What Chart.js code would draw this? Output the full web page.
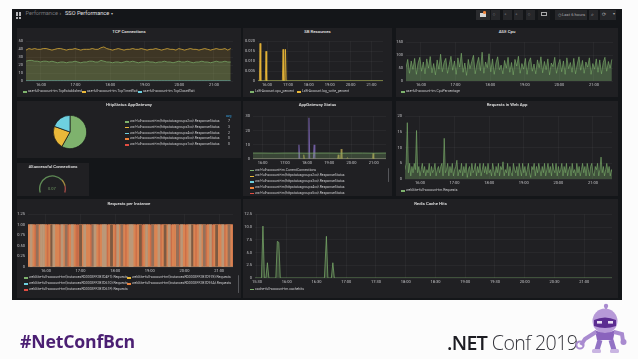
<!DOCTYPE html>
<html><head><meta charset="utf-8">
<script src="https://cdn.jsdelivr.net/npm/chart.js@4/dist/chart.umd.min.js"></script>
<style>
html,body{margin:0;padding:0;background:#fcfcfc;width:638px;height:359px;overflow:hidden}
#dash{position:absolute;left:12px;top:9px;width:610px;height:291px;background:#141619;filter:blur(.5px)}
.abs{position:absolute}
.panel{position:absolute;background:#202023}
.t{position:absolute;white-space:nowrap;font-family:Roboto,sans-serif;color:#c8c8cb;line-height:1}
.title{font-size:4.3px;font-weight:500;color:#e4e4e4;text-align:center}
.lg{font-size:3.45px}
canvas{position:absolute}
.sw{position:absolute;width:3.5px;height:1.2px}
#foot{position:absolute;left:0;top:300px;width:638px;height:59px}
</style></head><body>
<div id="dash"></div>
<div id="foot"></div>
<script>
// ---------- tick labels ----------
const hourTicks=[960,1020,1080,1140,1200,1260];
const redisTicks=[930,960,990,1020,1050,1080,1110,1140,1170,1200,1230,1260];
const tcpYTicks=[0,10,20,30,40,50];
const sbYTicks=[0,0.005,0.01,0.015,0.02];
const cpuYTicks=[0,50,100,150];
const gwYTicks=[0,10,20,30];
const webYTicks=[0,5,10,15,20];
const reqYTicks=[0,0.25,0.5,0.75,1,1.25];
const redisYTicks=[0,2.5,5,7.5,10,12.5];

// ---------- TCP Connections (5 minute samples) ----------
const tcpEstablished=[25,26,26,25,25,24,25,25,24,25,24,23,24,24,23,24,24,25,24,23,24,24,25,25,24,24,26,25,24,24,23,24,24,23,24,25,24,25,24,23,24,24,25,24,24,23,24,24,25,24,24,23,24,25,24,24,25,24,23,24,24,25,24,24,23,24,25,24,24,25,24,24];
const tcpTimeWait=[39,41,40,41,40,40,41,41,40,39,40,41,41,40,39,40,40,41,40,39,40,40,40,41,40,40,42,43,41,40,39,40,41,40,39,40,40,41,40,40,41,40,39,40,40,41,40,39,40,41,40,40,39,41,40,39,40,41,40,40,39,40,41,40,39,40,41,40,40,41,39,41];
const tcpCloseWait=[0,0,0,0,0,0,0,0,0,0,0,0,0,0,0,0,0,0,0,0,0,0,0,0,0,0,0,0,0,0,0,0,0,0,0,0,0,0,0,0,0,0,0,0,0,0,0,0,0,0,0,0,0,0,0,0,0,0,0,0,0,0,0,0,0,0,0,0,0,0,0,0];
const tcpNames=["ase-full-account-tm.TcpEstablished","ase-full-account-tm.TcpTimeWait","ase-full-account-tm.TcpCloseWait"];

// ---------- SB Resources (change points: minute of day, value) ----------
const sbTimes=[934,938,940,942,955,957,959,1004,1006,1008,1011,1013,1015,1293];
const sbLogWrite=[0,0,0.019,0,0,0.015,0,0,0.016,0,0,0.016,0,0];
const sbCpu=[0,0,0,0,0,0,0,0,0,0,0,0,0,0];
const sbNames=["LxB-Account.cpu_percent","LxB-Account.log_write_percent"];

// ---------- ASE Cpu (3 minute samples) ----------
const aseCpu=[52,84,30,78,45,88,26,70,92,38,74,28,86,50,95,32,68,24,82,46,104,36,72,88,30,64,96,42,78,26,90,54,108,34,70,22,84,48,76,100,28,66,92,40,112,30,74,52,106,36,86,26,70,94,44,62,28,80,50,92,34,72,24,84,58,96,30,68,46,88,26,74,90,38,66,28,82,52,94,32,76,44,86,24,70,56,92,30,64,84,36,78,26,90,48,72,34,88,28,66,94,42,80,30,74,54,90,26,68,46,86,34,82,28,72,92,38,76,50,84];
const aseNames=["ase-full-account-tm.CpuPercentage"];

// ---------- HttpStatus AppGateway ----------
const pieNames=["waf-full-account-tm{httpstatusgroup=2xx}.ResponseStatus","waf-full-account-tm{httpstatusgroup=3xx}.ResponseStatus","waf-full-account-tm{httpstatusgroup=4xx}.ResponseStatus","waf-full-account-tm{httpstatusgroup=5xx}.ResponseStatus","waf-full-account-tm{httpstatusgroup=1xx}.ResponseStatus"];
const pieValues=[7,2.7,2.35,0,0];
const pieLabels=["7","3","2","0","0"];

// ---------- #Successful Connections ----------
const gaugeBands=[72,14,14];
const gaugeValue="0.07";

// ---------- AppGateway Status (change points) ----------
const gwCurrentTimes=[934,960,990,1020,1050,1080,1110,1140,1170,1200,1230,1260,1293];
const gwCurrent=[4.2,4.2,4.1,4.2,4.2,4.1,4.2,4.2,4.1,4.2,4.2,4.1,4.2];
const gwPurpleTimes=[934,1056,1058,1060,1083,1085,1087,1097,1099,1101,1293];
const gwPurple=[0,0,10,0,0,29,0,0,10,0,0];
const gwOliveTimes=[934,1069,1071,1073,1162,1164,1166,1170,1172,1174,1187,1189,1191,1256,1258,1260,1293];
const gwOlive=[0,0,3,0,0,3,0,0,7,0,0,1,0,0,4,0,0];
const gwNames=["waf-full-account-tm.CurrentConnections",pieNames[0],pieNames[1],pieNames[2],pieNames[3]];

// ---------- Requests in Web App (2 minute samples) ----------
const webRequests=[3,5,18,2,5,1,4,2,5,3,15.5,2,4,1,3,5,2,4,1,3,2,5,1,4,2,3,5,1,3,4,2,4,5,1,13,2,3,5,1,4,2,5,1,3,4,6,1,3,2,5,1,4,2,5,0.5,3,4,1,5,2,3,5,1,4,2,5,1,3,5,2,4,1.5,5,2,3,1,5,3,1,4,2,5,1,4,3,5.5,1,3,2,5,1,4,2,1,5,3,2,4,1,5,3,1,5,2,4,1,3,5,2,0.5,4,3,5,1,4,2,5,3,1,4,2,5,1,3,5,2,4,1,5,3,2,5,1,4,2,3,5,1,4,2,5,1,3,4,1,5,2,3,1,5,2,4,1,3,5,2,4,1,5,3,1,4,5,2,1,4,3,5,1,3,7,2,4,1,3,5,2,4,1,3,2,5];
const webNames=["webSite-full-account-tm.Requests"];

// ---------- Requests per Instance: which instance served each 3.6 minute sample ----------
const servedBy=[3,0,3,4,1,3,0,0,3,4,3,2,0,3,3,4,0,3,1,4,3,0,3,4,4,2,3,0,3,3,4,1,0,3,4,3,0,0,4,3,2,3,4,0,3,1,3,4,3,0,0,3,4,3,2,4,3,0,3,4,1,3,3,0,4,3,2,3,0,4,3,3,1,4,0,3,4,3,0,2,3,4,3,0,3,1,4,3,0,4,3,2,3,3,0,4,3,1,3,4];
const instanceNames=["webSite-full-account-tm{Instance=RD0003FF2B7D4F1}.Requests","webSite-full-account-tm{Instance=RD0003FF2B7D97E}.Requests","webSite-full-account-tm{Instance=RD0003FF2B7D610}.Requests","webSite-full-account-tm{Instance=RD0003FF2B7D95A}.Requests","webSite-full-account-tm{Instance=RD0003FF2B7D61F}.Requests"];

// ---------- Redis Cache Hits (change points) ----------
const redisTimes=[928,934.5,936,937.5,939,940.5,942,949,950.5,952,953.5,998,1000,1001.5,1005,1006.5,1008,1288];
const redisHits=[0,0,10.2,0,0,3,0,0,7.2,7,0,0,8.2,0,0,3,0,0];
const redisNames=["cache-full-account-tm.cachehits"];

// ---------- palette ----------
const GREEN="#7eb26d",YELLOW="#eab839",BLUE="#6ed0e0",ORANGE="#ef843c",RED="#e24d42",PURPLE="#705da0";
const PALETTE=[GREEN,YELLOW,BLUE,ORANGE,RED];
const STRIPES=["#bb9878","#94705a","#7d5a42","#d98453","#cc6e48"];

const dash=document.getElementById('dash');
const OX=12,OY=9; // dashboard origin on the page
function el(cls,x,y,txt,extra){const d=document.createElement('div');d.className=cls;d.style.left=(x-OX)+'px';d.style.top=(y-OY)+'px';if(txt!=null)d.textContent=txt;if(extra)Object.assign(d.style,extra);dash.appendChild(d);return d;}
function panel(x0,y0,x1,y1){el('panel',x0,y0,null,{width:(x1-x0)+'px',height:(y1-y0)+'px'});}
function title(txt,x0,x1,cy){el('t title',x0,cy-2.15,txt,{width:(x1-x0)+'px'});}
function legend(txt,color,swx,cy,textx){el('sw',swx,cy-.6,null,{background:color});el('t lg',textx==null?swx+5:textx,cy-1.75,txt);}
function hhmm(v){const h=Math.floor(v/60),m=v%60;return (h<10?'0':'')+h+':'+(m<10?'0':'')+m;}
function zip(xs,ys){return xs.map((x,i)=>({x,y:ys[i]}));}
function sampled(start,step,ys){return ys.map((y,i)=>({x:start+i*step,y}));}
function line(data,color,fillAlpha,w){return {data,borderColor:color,borderWidth:w||.7,pointRadius:0,tension:0,fill:fillAlpha?'origin':false,backgroundColor:color+fillAlpha};}

function axes(box,xMin,xMax,xTicks,yMax,yTicks,yFmt){
  const c=box.c;
  return {
    x:{type:'linear',offset:false,min:xMin,max:xMax,afterBuildTicks:s=>{s.ticks=xTicks.map(v=>({value:v}));},
       afterFit:s=>{s.height=c.b-box.b;},
       grid:{offset:false,color:'rgba(255,255,255,.07)',lineWidth:.6,drawTicks:false},border:{display:false},
       ticks:{color:'#c4c4c7',font:{size:4,family:'Roboto'},padding:2,maxRotation:0,autoSkip:false,callback:v=>hhmm(v)}},
    y:{type:'linear',min:0,max:yMax,afterBuildTicks:s=>{s.ticks=yTicks.map(v=>({value:v}));},
       afterFit:s=>{s.width=box.l-c.l;},
       grid:{color:'rgba(255,255,255,.07)',lineWidth:.6,drawTicks:false},border:{display:false},
       ticks:{color:'#c4c4c7',font:{size:4,family:'Roboto'},padding:3,autoSkip:false,callback:yFmt||(v=>String(v))}}
  };
}
function chart(type,box,xMin,xMax,xTicks,yMax,yTicks,datasets,yFmt,stack){
  const c={l:box.l-14,t:box.t-4,r:box.r+3,b:box.b+9};box.c=c;
  const cv=document.createElement('canvas');cv.width=c.r-c.l;cv.height=c.b-c.t;
  cv.style.left=(c.l-OX)+'px';cv.style.top=(c.t-OY)+'px';dash.appendChild(cv);
  const sc=axes(box,xMin,xMax,xTicks,yMax,yTicks,yFmt);
  if(stack){sc.x.stacked=true;sc.y.stacked=true;}
  return new Chart(cv,{type,data:{datasets},options:{responsive:false,animation:false,devicePixelRatio:1,
    layout:{padding:{top:4,right:3,left:0,bottom:0}},parsing:true,
    plugins:{legend:{display:false},tooltip:{enabled:false}},scales:sc}});
}

// ---------- chrome ----------
const tb=[[16,11],[18.5,11],[16,13.5],[18.5,13.5],[16,16],[18.5,16]];
tb.forEach(p=>el('abs',p[0],p[1]+.5,null,{width:'2px',height:'2px',background:'#b5b5b8'}));
el('t',25.5,11.2,'Performance',{fontSize:'5.6px',color:'#77777b'});
el('t',59.5,11.2,'›',{fontSize:'5.6px',color:'#9a9a9d'});
el('t',65,11.2,'SSO Performance',{fontSize:'5.6px',color:'#e0e0e0'});
el('t',111,11.6,'▾',{fontSize:'4px',color:'#bbb'});
el('abs',476,9.5,null,{width:'14px',height:'10px',background:'#2a2b2e'});
el('abs',480,13,null,{width:'6px',height:'4px',background:'#d8d8d8'});
el('abs',483,11,null,{width:'2.5px',height:'2.5px',background:ORANGE,borderRadius:'50%'});
[[493,'○'],[505,'▫'],[516,'▫'],[528,'○']].forEach(p=>{el('abs',p[0]-2.5,9.5,null,{width:'9px',height:'10px',background:'#26272a'});el('t',p[0]-.5,12,p[1],{fontSize:'5px',color:'#9a9a9d'});});
el('abs',538,9.5,null,{width:'12px',height:'10px',background:'#1d1e20'});
el('abs',541,12,null,{width:'6px',height:'4px',border:'.7px solid #aaa',boxSizing:'border-box'});
el('abs',555,9.5,null,{width:'32px',height:'10px',background:'#26272a'});
el('t',558,12.6,'◷ Last 6 hours',{fontSize:'4.2px',color:'#a8a8ab'});
el('abs',589,9.5,null,{width:'9px',height:'10px',background:'#26272a'});
el('t',591,12.3,'⌕',{fontSize:'5px',color:'#a8a8ab'});
el('abs',600,9.5,null,{width:'16px',height:'10px',background:'#26272a'});
el('t',602,12.3,'⟳',{fontSize:'5px',color:'#a8a8ab'});
el('t',613,13,'▾',{fontSize:'3.5px',color:'#a8a8ab'});

// ---------- panels ----------
panel(17,28,241,97);panel(243,28,392,97);panel(396,28,618,97);
panel(17,101,241,158);panel(17,163,89,196);
panel(243,101,392,196);panel(396,101,618,196);
panel(17,199,241,298);panel(243,199,618,298);

const T0=934,T1=1293;
// TCP
title('TCP Connections',17,241,32);
chart('line',{l:26,t:40,r:233,b:81},T0,T1,hourTicks,50,tcpYTicks,[
  line(sampled(T0,5,tcpCloseWait),BLUE,'',.7),
  line(sampled(T0,5,tcpEstablished),GREEN,'44',.7),
  line(sampled(T0,5,tcpTimeWait),YELLOW,'26',.7)]);
legend(tcpNames[0],GREEN,23,92,28);legend(tcpNames[1],YELLOW,82,92,87);legend(tcpNames[2],BLUE,138,92,143);
// SB
title('SB Resources',243,392,32);
chart('line',{l:258,t:40,r:383,b:81},T0,T1,hourTicks,0.02,sbYTicks,[
  line(zip(sbTimes,sbCpu),GREEN,'',.7),
  line(zip(sbTimes,sbLogWrite),YELLOW,'33',.8)],v=>v===0?'0':v.toFixed(3));
legend(sbNames[0],GREEN,250,92,255);legend(sbNames[1],YELLOW,297,92,302);
// ASE
title('ASE Cpu',396,618,32);
chart('line',{l:406,t:41,r:613,b:81},T0,T1,hourTicks,150,cpuYTicks,[
  line(sampled(T0,3,aseCpu),GREEN,'66',.6)]);
legend(aseNames[0],GREEN,401,92,406);
// Pie
title('HttpStatus AppGateway',17,241,105.5);
(function(){
  const cv=document.createElement('canvas');cv.width=40;cv.height=40;
  cv.style.left=(50-OX)+'px';cv.style.top=(111.5-OY)+'px';dash.appendChild(cv);
  new Chart(cv,{type:'pie',data:{labels:pieNames,datasets:[{data:pieValues,backgroundColor:PALETTE,borderColor:'#141619',borderWidth:.7}]},
    options:{responsive:false,animation:false,devicePixelRatio:1,plugins:{legend:{display:false},tooltip:{enabled:false}},layout:{padding:3}}});
})();
el('t lg',226,115.3,'avg',{color:'#33a2e5'});
const pieY=[122,127.7,133.3,139,145];
pieNames.forEach((n,i)=>{legend(n,PALETTE[i],125,pieY[i],130);el('t lg',228,pieY[i]-1.75,pieLabels[i]);});
// Gauge
title('#Successful Connections',17,89,167.5);
(function(){
  const cv=document.createElement('canvas');cv.width=27;cv.height=18;
  cv.style.left=(38.5-OX)+'px';cv.style.top=(174.5-OY)+'px';dash.appendChild(cv);
  new Chart(cv,{type:'doughnut',data:{datasets:[{data:gaugeBands,backgroundColor:['#5f8a55','#a08a40','#a04a45'],borderWidth:0}]},
    options:{responsive:false,animation:false,devicePixelRatio:1,rotation:-107,circumference:214,cutout:'90%',
      plugins:{legend:{display:false},tooltip:{enabled:false}},layout:{padding:0}}});
  el('t',48,187,gaugeValue,{fontSize:'4px',color:'#6f9a62'});
})();
// AppGateway
title('AppGateway Status',243,392,105.5);
chart('line',{l:253,t:115,r:386,b:159},T0,T1,hourTicks,30,gwYTicks,[
  line(zip(gwCurrentTimes,gwCurrent),GREEN,'44',.7),
  line(zip(gwOliveTimes,gwOlive),'#b0a050','33',.6),
  line(zip(gwPurpleTimes,gwPurple),PURPLE,'55',1.1)]);
const gwY=[170.3,176.2,182,188,193.6],gwC=[GREEN,YELLOW,BLUE,ORANGE,RED];
gwNames.forEach((n,i)=>{if(i<4)legend(n,gwC[i],250,gwY[i],255);});
el('abs',388,168,null,{width:'1.3px',height:'14px',background:'#55565a',borderRadius:'1px'});
legend(gwNames[4],gwC[4],250,gwY[4],255);
el('abs',243,196,null,{width:'149px',height:'3px',background:'#141619'});
// Web
title('Requests in Web App',396,618,105.5);
chart('line',{l:405,t:115,r:612,b:179},T0,T1,hourTicks,20,webYTicks,[
  line(sampled(T0,2,webRequests),GREEN,'55',.6)]);
legend(webNames[0],GREEN,401,191,406);
// Requests per instance
title('Requests per Instance',17,241,204.5);
chart('bar',{l:28,t:213,r:233,b:267},929,1284,hourTicks,1.25,reqYTicks,
  instanceNames.map((n,k)=>({label:n,data:servedBy.map((s,i)=>({x:929+1.8+i*3.57,y:s===k?1:0})),backgroundColor:STRIPES[k],barPercentage:1,categoryPercentage:1,borderWidth:0})),
  v=>v===1?'1.00':v===0?'0':v.toFixed(2),true);
const ix=[24,127,24,127,24],iy=[278,278,284,284,290];
instanceNames.forEach((n,i)=>legend(n,PALETTE[i],ix[i],iy[i],ix[i]+5));
el('abs',238,275,null,{width:'1.3px',height:'18px',background:'#55565a',borderRadius:'1px'});
// Redis
title('Redis Cache Hits',243,618,204.5);
chart('line',{l:255,t:213,r:612,b:278},928,1288,redisTicks,12.5,redisYTicks,[
  line(zip(redisTimes,redisHits),GREEN,'44',.7)],v=>v===0?'0':v.toFixed(1));
legend(redisNames[0],GREEN,250,289.5,255);

// ---------- footer ----------
document.getElementById('foot').innerHTML=`
<div style="position:absolute;left:20px;top:29px;font:700 17.7px 'Open Sans',sans-serif;color:#4b1f73;line-height:24px;letter-spacing:-.2px">#NetConfBcn</div>
<div style="position:absolute;left:447px;top:30px;font:400 19.6px 'Open Sans',sans-serif;color:#33333a;line-height:26px;white-space:nowrap;letter-spacing:-.6px"><span style="color:#1c1c22;font-weight:600">.NET</span> <span style="font-weight:300">Conf 2019</span></div>
<svg style="position:absolute;left:575px;top:3px" width="55" height="52" viewBox="0 0 55 52">
<line x1="31" y1="2" x2="31" y2="9" stroke="#a98bd0" stroke-width="2"/><circle cx="31" cy="3" r="2.2" fill="#a98bd0"/>
<circle cx="30" cy="18" r="12.5" fill="#b79ad8"/>
<path d="M19 17 Q30 12 41 17 L41 23 Q30 27 19 23Z" fill="#5c2d91"/>
<rect x="22" y="18" width="5" height="2.6" fill="#e8dff3"/><rect x="33" y="18" width="5" height="2.6" fill="#e8dff3"/>
<path d="M20 27 Q30 33 40 27 L38 37 L22 37Z" fill="#8a63bd"/>
<path d="M21 29 L10 36 L6 42" stroke="#a98bd0" stroke-width="4" fill="none"/><circle cx="5" cy="42" r="3.6" fill="none" stroke="#a98bd0" stroke-width="2"/>
<path d="M39 29 L47 31 L48 38" stroke="#a98bd0" stroke-width="4" fill="none"/><circle cx="48.5" cy="39" r="3" fill="#a98bd0"/>
<path d="M25 37 L22 47" stroke="#9273c4" stroke-width="5"/><path d="M36 37 L39 47" stroke="#9273c4" stroke-width="5"/>
<rect x="17" y="46" width="9" height="4" rx="1.5" fill="#c9b5e2"/><rect x="35" y="46" width="9" height="4" rx="1.5" fill="#c9b5e2"/>
</svg>`;
</script>
</body></html>
